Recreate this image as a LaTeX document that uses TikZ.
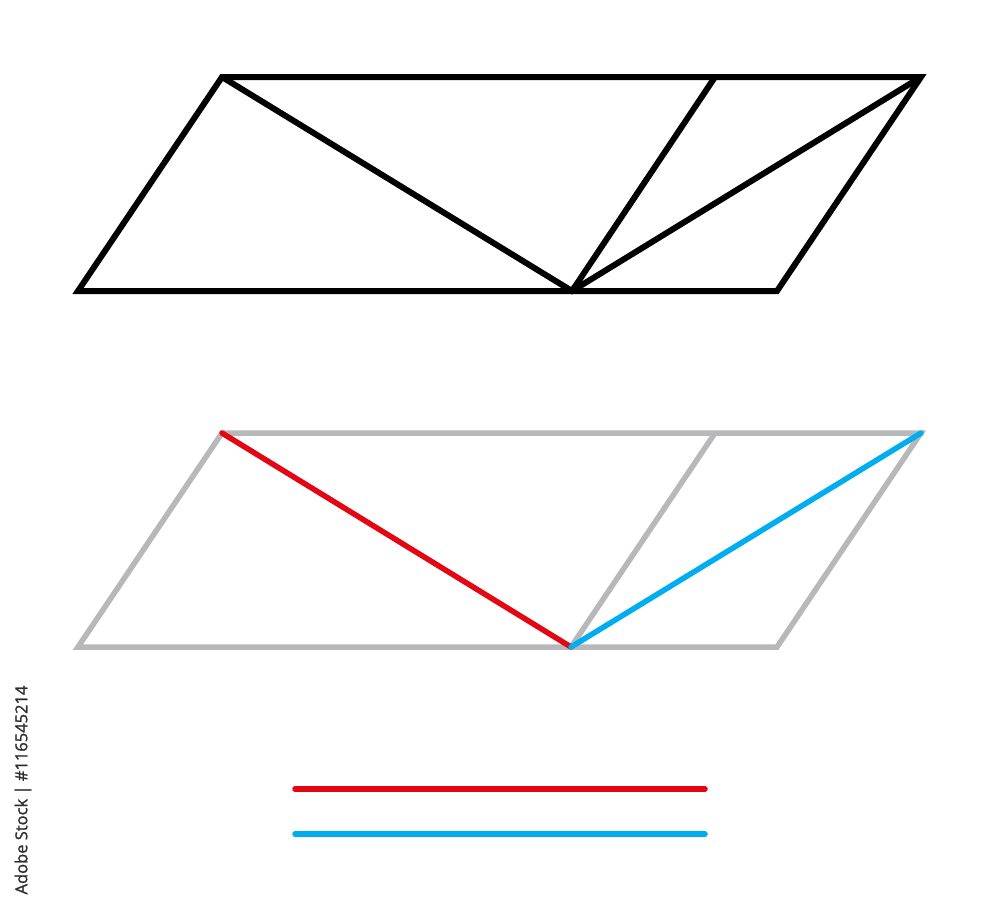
\documentclass[tikz,border=0pt]{standalone}
\usepackage{fontspec}
\newfontfamily\wmfont[FakeBold=1.2]{Open Sans}
\definecolor{sred}{RGB}{227,6,19}
\definecolor{sblue}{RGB}{0,174,239}
\definecolor{sgrey}{RGB}{184,184,186}
\definecolor{wmgrey}{RGB}{45,45,45}
\begin{document}
\begin{tikzpicture}[x=1pt,y=-1pt,
  blk/.style={line width=6pt,draw=black,line join=miter},
  gry/.style={line width=5.5pt,draw=sgrey,line join=miter},
  redl/.style={line width=5.5pt,draw=sred,line cap=round},
  bluel/.style={line width=5.5pt,draw=sblue,line cap=round}]
\useasboundingbox (0,0) rectangle (1000,913);
% top figure
\coordinate (TA) at (222,77);
\coordinate (TB) at (921,77);
\coordinate (TC) at (777,291);
\coordinate (TD) at (78,291);
\coordinate (TM) at (715,77);
\coordinate (TP) at (572,291);
\draw[blk] (TA) -- (TB) -- (TC) -- (TD) -- cycle;
\draw[blk] (TA) -- (TP) -- (TB);
\draw[blk] (TM) -- (TP);
% bottom figure
\coordinate (BA) at (222,433);
\coordinate (BB) at (921,433);
\coordinate (BC) at (777,647);
\coordinate (BD) at (78,647);
\coordinate (BM) at (715,433);
\coordinate (BP) at (571,647);
\draw[gry] (BA) -- (BB) -- (BC) -- (BD) -- cycle;
\draw[gry] (BM) -- (BP);
\draw[redl] (BA) -- (BP);
\draw[bluel] (BP) -- (BB);
% comparison lines
\coordinate (R1) at (295,789);
\coordinate (R2) at (705,789);
\coordinate (L1) at (295,834);
\coordinate (L2) at (705,834);
\draw[redl] (R1) -- (R2);
\draw[bluel] (L1) -- (L2);
% watermark label
\node[rotate=90,text=wmgrey,font=\wmfont\fontsize{16.5}{20}\selectfont,inner sep=0pt] (wm) at (23,790) {Adobe Stock | \#116545214};
\end{tikzpicture}
\end{document}
